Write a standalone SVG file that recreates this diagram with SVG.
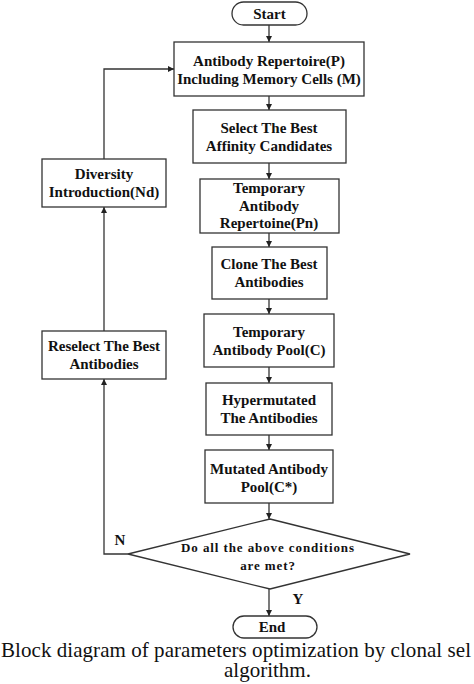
<svg xmlns="http://www.w3.org/2000/svg" width="474" height="684" viewBox="0 0 474 684">
<defs>
<marker id="ah" viewBox="0 0 10 10" refX="10" refY="5" markerWidth="6" markerHeight="6" markerUnits="userSpaceOnUse" orient="auto">
<path d="M0,0 L10,5 L0,10 z" fill="#222"/>
</marker>
<style>
.box{fill:#fff;stroke:#333;stroke-width:1.3}
.t{font-family:"Liberation Serif","Times New Roman",serif;font-weight:bold;font-size:15px;fill:#111;text-anchor:middle}
.c{stroke:#333;stroke-width:1.3;fill:none}
.cap{font-family:"Liberation Serif","Times New Roman",serif;font-size:21px;fill:#111}
</style>
</defs>
<rect width="474" height="684" fill="#fff"/>
<g id="connectors">
<line class="c" x1="269" y1="25" x2="269" y2="42" marker-end="url(#ah)"/>
<line class="c" x1="269" y1="96" x2="269" y2="110" marker-end="url(#ah)"/>
<line class="c" x1="269" y1="163" x2="269" y2="179" marker-end="url(#ah)"/>
<line class="c" x1="269" y1="233" x2="269" y2="247" marker-end="url(#ah)"/>
<line class="c" x1="269" y1="299" x2="269" y2="314" marker-end="url(#ah)"/>
<line class="c" x1="269" y1="367" x2="269" y2="383" marker-end="url(#ah)"/>
<line class="c" x1="269" y1="435" x2="269" y2="450" marker-end="url(#ah)"/>
<line class="c" x1="269" y1="503" x2="269" y2="519" marker-end="url(#ah)"/>
<line class="c" x1="269" y1="589" x2="269" y2="616" marker-end="url(#ah)"/>
<polyline class="c" points="128,554 104,554 104,379" marker-end="url(#ah)"/>
<line class="c" x1="104" y1="331" x2="104" y2="207" marker-end="url(#ah)"/>
<polyline class="c" points="104,159 104,69 174,69" marker-end="url(#ah)"/>
</g>
<g id="start">
<rect class="box" x="232" y="2" width="75" height="23" rx="11.5"/>
<text class="t" x="269.5" y="18.5">Start</text>
</g>
<g id="repertoire">
<rect class="box" x="174" y="42" width="190" height="54"/>
<text class="t" x="269" y="66">Antibody Repertoire(P)</text>
<text class="t" x="269" y="84">Including Memory Cells (M)</text>
</g>
<g id="select">
<rect class="box" x="193" y="110" width="153" height="53"/>
<text class="t" x="269" y="133">Select The Best</text>
<text class="t" x="269" y="151">Affinity Candidates</text>
</g>
<g id="temprep">
<rect class="box" x="200" y="179" width="139" height="54"/>
<text class="t" x="269" y="193">Temporary</text>
<text class="t" x="269" y="211">Antibody</text>
<text class="t" x="269" y="228">Repertoine(Pn)</text>
</g>
<g id="clone">
<rect class="box" x="212" y="247" width="115" height="52"/>
<text class="t" x="269" y="269">Clone The Best</text>
<text class="t" x="269" y="287">Antibodies</text>
</g>
<g id="pool">
<rect class="box" x="204" y="314" width="130" height="53"/>
<text class="t" x="269" y="337">Temporary</text>
<text class="t" x="269" y="355">Antibody Pool(C)</text>
</g>
<g id="hyper">
<rect class="box" x="206" y="383" width="126" height="52"/>
<text class="t" x="269" y="405">Hypermutated</text>
<text class="t" x="269" y="423">The Antibodies</text>
</g>
<g id="mutated">
<rect class="box" x="205" y="450" width="128" height="53"/>
<text class="t" x="269" y="474">Mutated Antibody</text>
<text class="t" x="269" y="492">Pool(C*)</text>
</g>
<g id="decision">
<polygon class="box" points="270,519 410,554 270,589 128,554"/>
<text class="t" x="268" y="552" style="font-size:13px;letter-spacing:0.9px">Do all the above conditions</text>
<text class="t" x="268" y="570" style="font-size:13px;letter-spacing:0.9px">are met?</text>
</g>
<g id="end">
<rect class="box" x="233" y="616" width="84" height="22" rx="11"/>
<text class="t" x="272" y="632">End</text>
</g>
<g id="diversity">
<rect class="box" x="42" y="159" width="124" height="48"/>
<text class="t" x="104" y="179">Diversity</text>
<text class="t" x="104" y="197">Introduction(Nd)</text>
</g>
<g id="reselect">
<rect class="box" x="42" y="331" width="124" height="48"/>
<text class="t" x="104" y="351">Reselect The Best</text>
<text class="t" x="104" y="369">Antibodies</text>
</g>
<text class="t" x="120" y="545">N</text>
<text class="t" x="298" y="604">Y</text>
<text class="cap" x="1" y="657" textLength="470" lengthAdjust="spacing">Block diagram of parameters optimization by clonal sel</text>
<text class="cap" x="224" y="677">algorithm.</text>
</svg>
